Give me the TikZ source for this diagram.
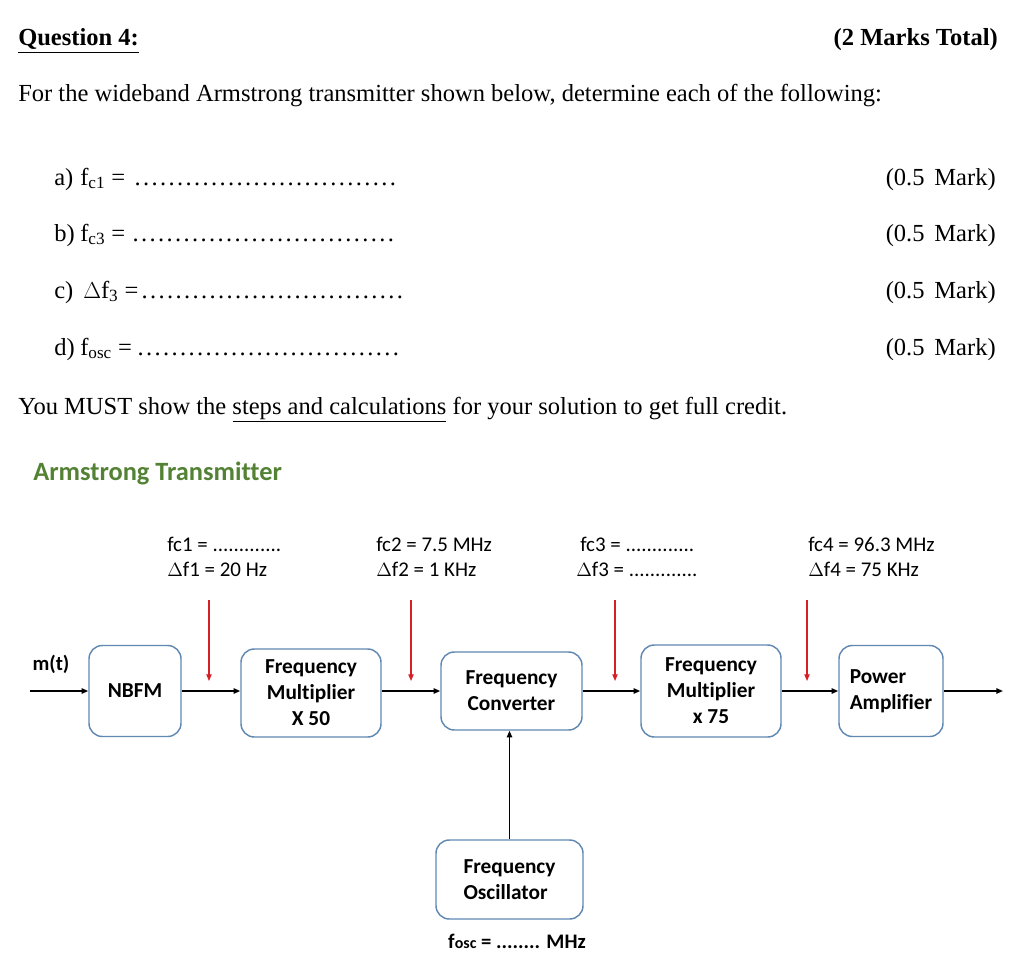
\documentclass[tikz,border=0pt]{standalone}
\usepackage{fontspec}
\setmainfont{Liberation Serif}
\newfontfamily\calfont[Ligatures=NoCommon]{Carlito}
\usetikzlibrary{arrows.meta}
\definecolor{boxblue}{RGB}{96,136,178}
\definecolor{arrred}{RGB}{214,32,38}
\definecolor{titlegreen}{RGB}{84,130,53}
\newcommand\dotline[1]{\makebox[#1][l]{\xleaders\hbox to 6.2pt{\hss.\hss}\hfill}}
\begin{document}
\begin{tikzpicture}[x=0.75pt,y=-0.75pt,
  serif/.style={inner sep=0pt, anchor=base west, font=\fontsize{18.4}{22}\selectfont},
  serifr/.style={inner sep=0pt, anchor=base east, font=\fontsize{18.4}{22}\selectfont},
  lab/.style={inner sep=0pt, anchor=base west, font=\calfont\fontsize{15.7}{19}\selectfont},
  blk/.style={draw=boxblue, line width=1.1pt, rounded corners=10pt, inner sep=0pt,
    font=\calfont\bfseries\fontsize{16}{19.5}\selectfont, align=center},
  sig/.style={line width=1.2pt, -{Triangle[length=5pt,width=4pt]}},
  redarr/.style={draw=arrred, line width=0.8pt, -{Triangle[length=5pt,width=4pt]}, arrred}
]
\useasboundingbox (0,0) rectangle (1024,974);

% header
\node[serif, font=\fontsize{18.4}{22}\selectfont\bfseries] (q) at (18,46) {\underline{Question 4:}};
\node[serifr, font=\fontsize{18.4}{22}\selectfont\bfseries] (tot) at (998,46) {(2 Marks Total)};
\node[serif] (intro) at (18,101) {For the wideband Armstrong transmitter shown below, determine each of the following:};

% questions
\node[serif] (qa) at (54,185) {a)};
\node[serif] (qaf) at (80,185) {f\textsubscript{c1} =};
\node[serif] (qad) at (133,185) {\dotline{198pt}};
\node[serifr] (qam) at (996,185) {(0.5\hspace{0.4em}Mark)};

\node[serif] (qb) at (54,241) {b)};
\node[serif] (qbf) at (80,241) {f\textsubscript{c3} =};
\node[serif] (qbd) at (131,241) {\dotline{198pt}};
\node[serifr] (qbm) at (996,241) {(0.5\hspace{0.4em}Mark)};

\node[serif] (qc) at (54,298) {c)};
\node[serif] (qcf) at (83,298) {$\Delta$f\textsubscript{3} =};
\node[serif] (qcd) at (140,298) {\dotline{198pt}};
\node[serifr] (qcm) at (996,298) {(0.5\hspace{0.4em}Mark)};

\node[serif] (qd) at (54,355) {d)};
\node[serif] (qdf) at (80,355) {f\textsubscript{osc} =};
\node[serif] (qdd) at (136,355) {\dotline{198pt}};
\node[serifr] (qdm) at (996,355) {(0.5\hspace{0.4em}Mark)};

\node[serif] (must) at (18,414) {You MUST show the \underline{steps and calculations} for your solution to get full credit.};

% diagram title
\node[inner sep=0pt, anchor=base west, text=titlegreen, font=\calfont\bfseries\fontsize{19.8}{23}\selectfont] (title) at (33,480) {Armstrong Transmitter};

% labels
\node[lab] (l1a) at (167,551) {fc1 = .............};
\node[lab] (l1b) at (167,576) {$\Delta$f1 = 20 Hz};
\node[lab] (l2a) at (376,551) {fc2 = 7.5 MHz};
\node[lab] (l2b) at (376,576) {$\Delta$f2 = 1 KHz};
\node[lab] (l3a) at (580,551) {fc3 = .............};
\node[lab] (l3b) at (576,576) {$\Delta$f3 = .............};
\node[lab] (l4a) at (808,551) {fc4 = 96.3 MHz};
\node[lab] (l4b) at (808,576) {$\Delta$f4 = 75 KHz};

% blocks
\node[blk, minimum width=69pt, minimum height=68.25pt] (nbfm) at (135,691) {NBFM};
\node[blk, minimum width=105pt, minimum height=66pt] (fm50) at (311,693) {Frequency\\Multiplier\\X 50};
\node[blk, minimum width=105.75pt, minimum height=58.5pt] (fc) at (511.5,691) {Frequency\\Converter};
\node[blk, minimum width=105pt, minimum height=69pt] (fm75) at (711,691) {Frequency\\Multiplier\\x 75};
\node[blk, minimum width=78pt, minimum height=68.25pt, align=left] (pa) at (891,691) {Power\\Amplifier};
\node[blk, minimum width=110.25pt, minimum height=59.25pt, align=left] (osc) at (509.5,879.5) {Frequency\\Oscillator};

\node[inner sep=0pt, font=\calfont\bfseries\fontsize{15.5}{19}\selectfont] (mt) at (51,664) {m(t)};
\node[inner sep=0pt, font=\calfont\bfseries\fontsize{15.5}{19}\selectfont] (fosc) at (517,941) {f{\fontsize{12}{12}\selectfont osc} = ........ MHz};

% connectors
\coordinate (in) at (30,691);
\coordinate (out) at (1003,691);
\draw[sig] (in) -- (nbfm.west);
\draw[sig] (nbfm.east) -- (fm50.west |- nbfm.east);
\draw[sig] (fm50.east |- fc.west) -- (fc.west);
\draw[sig] (fc.east) -- (fm75.west);
\draw[sig] (fm75.east) -- (pa.west);
\draw[sig] (pa.east) -- (out);
\draw[sig] (osc.north) -- (osc.north |- fc.south);

\coordinate (r1s) at (209,600); \coordinate (r1e) at (209,681);
\coordinate (r2s) at (411,600); \coordinate (r2e) at (411,681);
\coordinate (r3s) at (615,600); \coordinate (r3e) at (615,681);
\coordinate (r4s) at (807,600); \coordinate (r4e) at (807,681);
\draw[redarr] (r1s) -- (r1e);
\draw[redarr] (r2s) -- (r2e);
\draw[redarr] (r3s) -- (r3e);
\draw[redarr] (r4s) -- (r4e);
\end{tikzpicture}
\end{document}
